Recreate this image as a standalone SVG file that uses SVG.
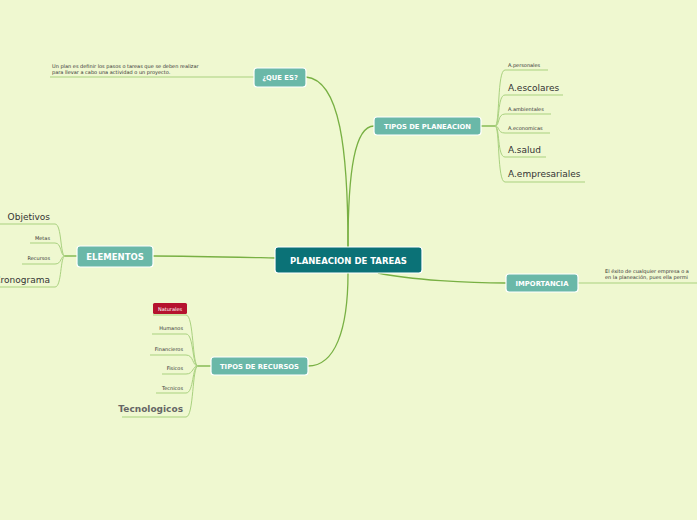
<svg xmlns="http://www.w3.org/2000/svg" width="697" height="520" viewBox="0 0 697 520">
<style>
text{font-family:"DejaVu Sans","Liberation Sans",sans-serif;fill:#333}
.br{fill:#6ab8a8;stroke:#fff;stroke-width:1.2}
.bt{fill:#fff;font-weight:bold;font-size:6.8px;text-anchor:middle}
.m{fill:none;stroke:#78b043;stroke-width:1.3}
.l{fill:none;stroke:#a9d17f;stroke-width:1}
.s{font-size:5px}
.b{font-size:9px}
.r{text-anchor:end}
</style>
<rect width="697" height="520" fill="#eff8d0"/>
<g id="connectors">
<path class="m" d="M348 247 C348 150 340 80 306 77"/>
<path class="m" d="M348 247 C348 170 355 126 374 126"/>
<path class="m" d="M275 258 C230 257 190 256 153 256"/>
<path class="m" d="M378 273 C410 280 470 283 506 283"/>
<path class="m" d="M348 273 C348 330 335 366 308 366"/>
<path class="m" d="M481 126 L495 126"/>
<path class="m" d="M77 256 L65 256"/>
<path class="m" d="M211 366 L198 366"/>
<path class="l" d="M254 77 L50 77"/>
<path class="l" d="M578 283 L697 283"/>
<g>
<path class="l" d="M495 126 C500 126 497 70 505 70 L548 70"/>
<path class="l" d="M495 126 C500 126 497 95 505 95 L563 95"/>
<path class="l" d="M495 126 C500 126 497 114 505 114 L551 114"/>
<path class="l" d="M495 126 C500 126 497 133 505 133 L550 133"/>
<path class="l" d="M495 126 C500 126 497 157 505 157 L546 157"/>
<path class="l" d="M495 126 C500 126 497 182 505 182 L585 182"/>
</g>
<g>
<path class="l" d="M65 256 C60 256 62 224 55 224 L0 224"/>
<path class="l" d="M65 256 C60 256 62 243 55 243 L30 243"/>
<path class="l" d="M65 256 C60 256 62 264 55 264 L22 264"/>
<path class="l" d="M65 256 C60 256 62 287 55 287 L0 287"/>
</g>
<g>
<path class="l" d="M198 366 C192 366 194 315 186 315 L153 315"/>
<path class="l" d="M198 366 C192 366 194 334 186 334 L152 334"/>
<path class="l" d="M198 366 C192 366 194 355 186 355 L150 355"/>
<path class="l" d="M198 366 C192 366 194 374 186 374 L162 374"/>
<path class="l" d="M198 366 C192 366 194 393 186 393 L156 393"/>
<path class="l" d="M198 366 C192 366 194 417 186 417 L122 417"/>
</g>
</g>
<g id="center"><rect x="275" y="247" width="147" height="26" rx="3" fill="#0b7277" stroke="#fff" stroke-width="1.2"/><text x="348.5" y="263.5" style="fill:#fff;font-weight:bold;font-size:8.5px;text-anchor:middle">PLANEACION DE TAREAS</text></g>
<g id="quees"><rect class="br" x="254" y="68" width="52" height="19" rx="3"/><text class="bt" x="280" y="80">¿QUE ES?</text>
<text class="s" x="52" y="68">Un plan es definir los pasos o tareas que se deben realizar</text><text class="s" x="52" y="74">para llevar a cabo una actividad o un proyecto.</text></g>
<g id="planeacion"><rect class="br" x="374" y="117" width="107" height="18" rx="3"/><text class="bt" x="427.5" y="128.5">TIPOS DE PLANEACION</text>
<text class="s" x="508" y="67">A.personales</text>
<text class="b" x="508" y="91">A.escolares</text>
<text class="s" x="508" y="111">A.ambientales</text>
<text class="s" x="508" y="130">A.economicas</text>
<text class="b" x="508" y="153">A.salud</text>
<text class="b" x="508" y="177">A.empresariales</text></g>
<g id="elementos"><rect class="br" x="77" y="246" width="76" height="21" rx="3"/><text style="fill:#fff;font-weight:bold;font-size:8.5px;text-anchor:middle" x="115" y="260">ELEMENTOS</text>
<text class="b r" x="50" y="220">Objetivos</text>
<text class="s r" x="50" y="240">Metas</text>
<text class="s r" x="50" y="260">Recursos</text>
<text class="b r" x="50" y="283">Cronograma</text></g>
<g id="importancia"><rect class="br" x="506" y="274" width="72" height="18" rx="3"/><text class="bt" x="542" y="285.5">IMPORTANCIA</text>
<text class="s" x="605" y="273">El éxito de cualquier empresa o a</text><text class="s" x="605" y="279">en la planeación, pues ella permi</text></g>
<g id="recursos"><rect class="br" x="211" y="357" width="97" height="18" rx="3"/><text class="bt" x="259.5" y="368.5">TIPOS DE RECURSOS</text>
<rect x="153" y="303" width="34" height="11" rx="1.5" fill="#b5122e"/><text class="s" x="170" y="310.5" style="fill:#fff;text-anchor:middle">Naturales</text>
<text class="s r" x="183" y="330">Humanos</text>
<text class="s r" x="183" y="351">Financieros</text>
<text class="s r" x="183" y="370">Fisicos</text>
<text class="s r" x="183" y="390">Tecnicos</text>
<text class="r" x="183" y="412" style="font-size:9px;font-weight:bold;fill:#666">Tecnologicos</text></g>
</svg>
